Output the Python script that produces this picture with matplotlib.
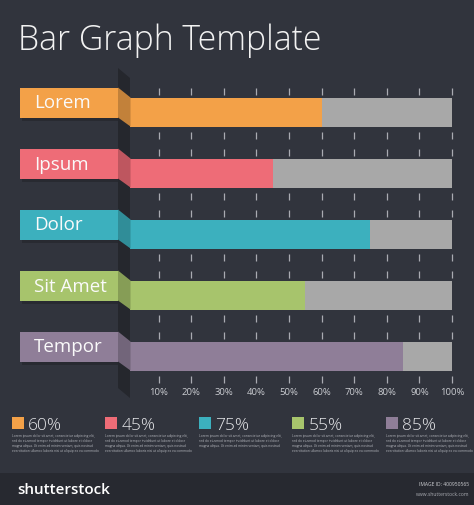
import matplotlib
matplotlib.use("Agg")
import matplotlib.pyplot as plt
import matplotlib.transforms as mtransforms
from matplotlib.patches import Rectangle, Polygon
import numpy as np

plt.rcParams["font.family"] = ["Open Sans", "DejaVu Sans"]

categories = ["Lorem", "Ipsum", "Dolor", "Sit Amet", "Tempor"]
values = [60, 45, 75, 55, 85]
colors = ["#F3A148", "#EE6C77", "#3CB0BE", "#A7C46C", "#8F7E98"]
tick_values = [10, 20, 30, 40, 50, 60, 70, 80, 90, 100]
tick_labels = ["10%", "20%", "30%", "40%", "50%", "60%", "70%", "80%", "90%", "100%"]
lorem_lines = [
    "Lorem ipsum dolor sit amet, consectetur adipiscing elit,",
    "sed do eiusmod tempor incididunt ut labore et dolore",
    "magna aliqua. Ut enim ad minim veniam, quis nostrud",
    "exercitation ullamco laboris nisi ut aliquip ex ea commodo",
]
lorem_counts = [4, 4, 3, 4, 4]

BG = "#31343D"
FOOT = "#272930"
GREY = "#A8A8A8"
W, H = 474, 505

fig = plt.figure(figsize=(W / 100, H / 100), dpi=100)
fig.patch.set_facecolor(BG)
ax = fig.add_axes([0, 0, 1, 1])
ax.set_facecolor(BG)

# data scale: 0% at px 126, 100% at px 452; category i centred at px 112 + 61*i
x0, xs = 126, 3.26
y0, ys = 112, 61
ax.set_xlim(-x0 / xs, (W - x0) / xs)
ax.set_ylim((H - y0) / ys, -y0 / ys)
ax.axis("off")

# pixel transform for decorations
px = mtransforms.Affine2D().scale(1 / W, -1 / H).translate(0, 1) + fig.transFigure

ypos = np.arange(len(categories))
bh = 29 / ys
ax.barh(ypos, [100] * len(categories), height=bh, color=GREY, zorder=2)
ax.barh(ypos, values, height=bh, color=colors, zorder=3)

# small tick marks above and below each bar
for i in ypos:
    top = i - bh / 2
    bot = i + bh / 2
    ax.vlines(tick_values, top - 10 / ys, top - 3 / ys, color="#A9ABB2", lw=0.9, zorder=2)
    ax.vlines(tick_values, bot + 5 / ys, bot + 12 / ys, color="#A9ABB2", lw=0.9, zorder=2)

for t, lab in zip(tick_values, tick_labels):
    ax.text(t, (392 - y0) / ys, lab, ha="center", va="center", fontsize=6.8,
            color="#C9CBD0", zorder=5)

# dark folded strip
ax.add_patch(Polygon([(118, 68), (130, 78), (130, 398), (118, 388)],
                     closed=True, facecolor="#25272D", edgecolor="none",
                     transform=px, zorder=4))

# category label tabs with fold
for i, (cat, c) in enumerate(zip(categories, colors)):
    cy = y0 + ys * i
    ltop, lbot = cy - 24.5, cy + 5.5
    btop, bbot = cy - 14.5, cy + 14.5
    # soft shadow under the tab
    ax.add_patch(Rectangle((22, lbot), 96, 3, facecolor="#282A31", edgecolor="none",
                           transform=px, zorder=5))
    ax.add_patch(Rectangle((20, ltop), 98, 30, facecolor=c, edgecolor="none",
                           transform=px, zorder=6))
    rgb = np.array(matplotlib.colors.to_rgb(c)) * 0.8
    ax.add_patch(Polygon([(118, ltop), (130.5, btop), (130.5, bbot), (118, lbot)],
                         closed=True, facecolor=rgb, edgecolor="none",
                         transform=px, zorder=6))
    ax.text(34, cy - 8.5, cat, ha="left", va="center", fontsize=13.5,
            color="#FAFAFA", transform=px, zorder=7)

# title
ax.text(18, 50, "Bar Graph Template", ha="left", va="baseline", fontsize=24.3,
        fontweight="light", color="#F2F2F2", transform=px)

# legend row
for k, (v, c) in enumerate(zip(values, colors)):
    lx = 12 + 93.5 * k
    ax.add_patch(Rectangle((lx, 417), 12, 12, facecolor=c, edgecolor="none",
                           transform=px, zorder=5))
    ax.text(lx + 16, 430, f"{v}%", ha="left", va="baseline", fontsize=12.5,
            fontweight="light", color="#E6E7EA", transform=px)
    for j in range(lorem_counts[k]):
        ax.text(lx, 436 + 5 * j, lorem_lines[j], ha="left", va="center",
                fontsize=2.3, color="#B4B6BC", transform=px)

# footer band
ax.add_patch(Rectangle((0, 473), W, 32, facecolor=FOOT, edgecolor="none",
                       transform=px, zorder=5))
ax.text(17, 490, "shutterstock", ha="left", va="center", fontsize=11,
        fontweight="semibold", color="#FFFFFF", transform=px, zorder=6)
ax.text(469, 485, "IMAGE ID: 400950565", ha="right", va="center", fontsize=3.6,
        color="#D0D1D5", transform=px, zorder=6)
ax.text(469, 494, "www.shutterstock.com", ha="right", va="center", fontsize=3.6,
        color="#A8AAB0", transform=px, zorder=6)

fig.savefig("out.png", dpi=100, facecolor=BG)
